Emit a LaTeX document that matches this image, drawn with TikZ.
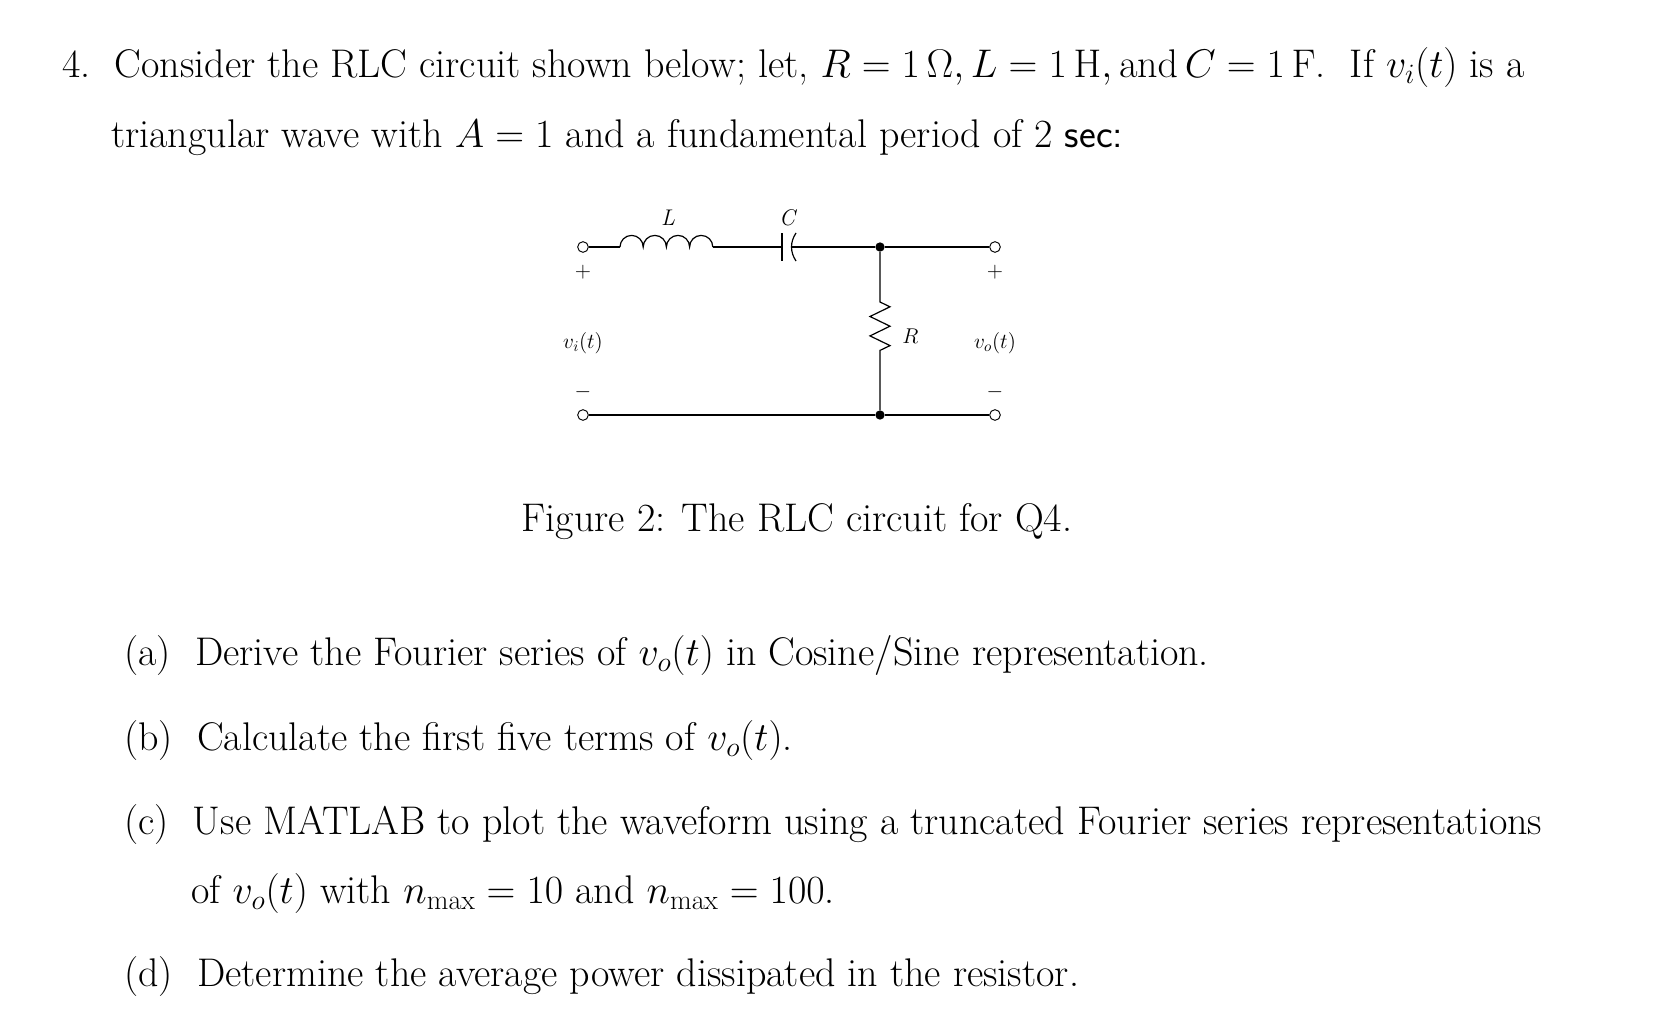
\RequirePackage{fix-cm}
\documentclass[tikz,border=0pt]{standalone}
\usepackage{amsmath}
\usetikzlibrary{calc}
\begin{document}
\begin{tikzpicture}[x=0.75pt,y=-0.75pt,
  txt/.style={anchor=base west,inner sep=0,font=\fontsize{30}{34}\selectfont},
  lab/.style={inner sep=0,font=\fontsize{16}{18}\selectfont},
  wire/.style={line width=0.9pt},
  term/.style={circle,draw,fill=white,inner sep=0,minimum size=8pt,line width=0.7pt},
  dot/.style={circle,fill,inner sep=0,minimum size=7pt}]
\useasboundingbox (0,0) rectangle (1672,1010);
\node[txt] (l1) at (62,77) {4.\ \ Consider the RLC circuit shown below; let, $R=1\,\Omega, L=1\,\mathrm{H}, \mathrm{and}\, C=1\,\mathrm{F}$.\ \ If $v_i(t)$ is a};
\node[txt] (l2) at (111,147) {triangular wave with $A=1$ and a fundamental period of 2 {\sffamily sec:}};
% circuit
\node[term] (ti) at (583,247) {};
\node[term] (bi) at (583,415) {};
\node[term] (to) at (995,247) {};
\node[term] (bo) at (995,415) {};
\node[dot] (nt) at (880,247) {};
\node[dot] (nb) at (880,415) {};
\coordinate (la) at (620,247);
\coordinate (lb) at (713,247);
\coordinate (ca) at (782,247);
\coordinate (cb) at (792,247);
\coordinate (ra) at (880,302);
\coordinate (rb) at (880,360);
\draw[wire] (ti) -- (la);
\draw[wire] (la) arc (180:360:11.6) arc (180:360:11.6) arc (180:360:11.6) arc (180:360:11.6);
\draw[wire] (lb) -- (ca);
\draw[wire] ($(ca)+(0,-14)$) -- ($(ca)+(0,14)$);
\draw[wire] ($(cb)+(4,-14)$) .. controls ($(cb)+(-2,-5)$) and ($(cb)+(-2,5)$) .. ($(cb)+(4,14)$);
\draw[wire] (cb) -- (nt) -- (to);
\draw[wire] (nt) -- (ra) -- ++(10,4.8) -- ++(-20,9.7) -- ++(20,9.7) -- ++(-20,9.7) -- ++(20,9.7) -- ++(-10,4.8) -- (rb) -- (nb);
\draw[wire] (bi) -- (nb) -- (bo);
\node[lab,font=\fontsize{17}{18}\itshape] (tL) at (668,218) {L};
\node[lab,font=\fontsize{17}{18}\itshape] (tC) at (787,218) {C};
\node[lab] (p1) at (583,272) {$+$};
\node[lab] (p2) at (995,272) {$+$};
\node[lab] (m1) at (583,392) {$-$};
\node[lab] (m2) at (995,392) {$-$};
\node[lab] (vi) at (583,343) {$v_i(t)$};
\node[lab] (vo) at (995,343) {$v_o(t)$};
\node[lab,anchor=west] (tR) at (902,336) {$R$};
\node[txt,anchor=base] (cap) at (797,531) {Figure 2: The RLC circuit for Q4.};
\node[txt] (a) at (124,665) {(a)\ \ Derive the Fourier series of $v_o(t)$ in Cosine/Sine representation.};
\node[txt] (b) at (124,750) {(b)\ \ Calculate the first five terms of $v_o(t)$.};
\node[txt] (c) at (124,834) {(c)\ \ Use MATLAB to plot the waveform using a truncated Fourier series representations};
\node[txt] (c2) at (191,903) {of $v_o(t)$ with $n_{\mathrm{max}}=10$ and $n_{\mathrm{max}}=100$.};
\node[txt] (d) at (124,986) {(d)\ \ Determine the average power dissipated in the resistor.};
\end{tikzpicture}
\end{document}
